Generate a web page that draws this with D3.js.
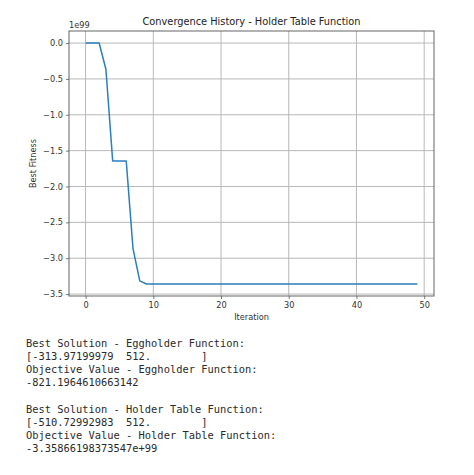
<!DOCTYPE html>
<html><head><meta charset="utf-8">
<script src="https://cdn.jsdelivr.net/npm/d3@7"></script>
<style>
html,body{margin:0;padding:0;background:#fff;}
svg{display:block;}
</style></head>
<body>
<script>
// ---- data ----
const titleText = "Convergence History - Holder Table Function";
const xLabel = "Iteration";
const yLabel = "Best Fitness";
const offsetText = "1e99";
// best fitness per iteration, in units of 1e99
const fitness = [0, 0, 0, -0.365, -1.643, -1.643, -1.643, -2.865, -3.315, -3.35866,
  -3.35866, -3.35866, -3.35866, -3.35866, -3.35866, -3.35866, -3.35866, -3.35866, -3.35866, -3.35866,
  -3.35866, -3.35866, -3.35866, -3.35866, -3.35866, -3.35866, -3.35866, -3.35866, -3.35866, -3.35866,
  -3.35866, -3.35866, -3.35866, -3.35866, -3.35866, -3.35866, -3.35866, -3.35866, -3.35866, -3.35866,
  -3.35866, -3.35866, -3.35866, -3.35866, -3.35866, -3.35866, -3.35866, -3.35866, -3.35866, -3.35866];
const xTicks = [0, 10, 20, 30, 40, 50];
const yTicks = [0.0, -0.5, -1.0, -1.5, -2.0, -2.5, -3.0, -3.5];
const outputLines = [
  "Best Solution - Eggholder Function:",
  "[-313.97199979  512.        ]",
  "Objective Value - Eggholder Function:",
  "-821.1964610663142",
  "",
  "Best Solution - Holder Table Function:",
  "[-510.72992983  512.        ]",
  "Objective Value - Holder Table Function:",
  "-3.35866198373547e+99"
];

// ---- layout ----
const W = 474, H = 475;
const L = 69, R = 434, T = 31, B = 296;
const svg = d3.select("body").append("svg").attr("width", W).attr("height", H);

const n = fitness.length;
const xPad = (n - 1) * 0.05;
const x = d3.scaleLinear().domain([-xPad, (n - 1) + xPad]).range([L, R]);
const ymin = d3.min(fitness), ymax = d3.max(fitness);
const yPad = (ymax - ymin) * 0.05;
const y = d3.scaleLinear().domain([ymin - yPad, ymax + yPad]).range([B, T]);

const font = "DejaVu Sans, sans-serif";
const fmtY = v => (v < 0 ? "\u2212" : "") + Math.abs(v).toFixed(1);

// grid
const grid = svg.append("g");
grid.selectAll(".gx").data(xTicks.filter(t => x(t) <= R)).join("line")
  .attr("x1", d => x(d)).attr("x2", d => x(d)).attr("y1", T).attr("y2", B)
  .attr("stroke", "#b8b8b8").attr("stroke-width", 1);
grid.selectAll(".gy").data(yTicks.filter(t => y(t) <= B)).join("line")
  .attr("y1", d => y(d)).attr("y2", d => y(d)).attr("x1", L).attr("x2", R)
  .attr("stroke", "#b8b8b8").attr("stroke-width", 1);

// axes
const xAxis = d3.axisBottom(x).tickValues(xTicks).tickFormat(d3.format("d")).tickSize(3).tickPadding(3);
const yAxis = d3.axisLeft(y).tickValues(yTicks).tickFormat(fmtY).tickSize(3).tickPadding(3);
const gx = svg.append("g").attr("transform", `translate(0,${B})`).call(xAxis);
const gy = svg.append("g").attr("transform", `translate(${L},0)`).call(yAxis);
[gx, gy].forEach(g => {
  g.select(".domain").remove();
  g.selectAll("line").attr("stroke", "#444").attr("stroke-width", 0.7);
  g.selectAll("text").attr("font-family", font).attr("font-size", 8.2).attr("fill", "#333");
});

// line
const line = d3.line().x((d, i) => x(i)).y(d => y(d));
svg.append("path").datum(fitness).attr("d", line)
  .attr("fill", "none").attr("stroke", "#2a7fc0").attr("stroke-width", 1.5)
  .attr("stroke-linejoin", "round");

// frame
svg.append("rect").attr("x", L).attr("y", T).attr("width", R - L).attr("height", B - T)
  .attr("fill", "none").attr("stroke", "#555").attr("stroke-width", 0.9);

// texts
svg.append("text").attr("x", (L + R) / 2).attr("y", 25).attr("text-anchor", "middle")
  .attr("font-family", font).attr("font-size", 9.8).attr("fill", "#222").text(titleText);
svg.append("text").attr("x", L).attr("y", 28).attr("font-family", font)
  .attr("font-size", 8.2).attr("fill", "#333").text(offsetText);
svg.append("text").attr("x", (L + R) / 2).attr("y", 320).attr("text-anchor", "middle")
  .attr("font-family", font).attr("font-size", 8.2).attr("fill", "#333").text(xLabel);
svg.append("text").attr("transform", `translate(36,${(T + B) / 2}) rotate(-90)`)
  .attr("text-anchor", "middle").attr("font-family", font).attr("font-size", 8.2)
  .attr("fill", "#333").text(yLabel);

// console output
const out = svg.append("g");
out.selectAll("text").data(outputLines).join("text")
  .attr("x", 26).attr("y", (d, i) => 347 + i * 13.15)
  .attr("font-family", "DejaVu Sans Mono, monospace").attr("font-size", 10.4)
  .attr("fill", "#2a2a2a").attr("xml:space", "preserve").style("white-space", "pre")
  .text(d => d);
</script>
</body></html>
